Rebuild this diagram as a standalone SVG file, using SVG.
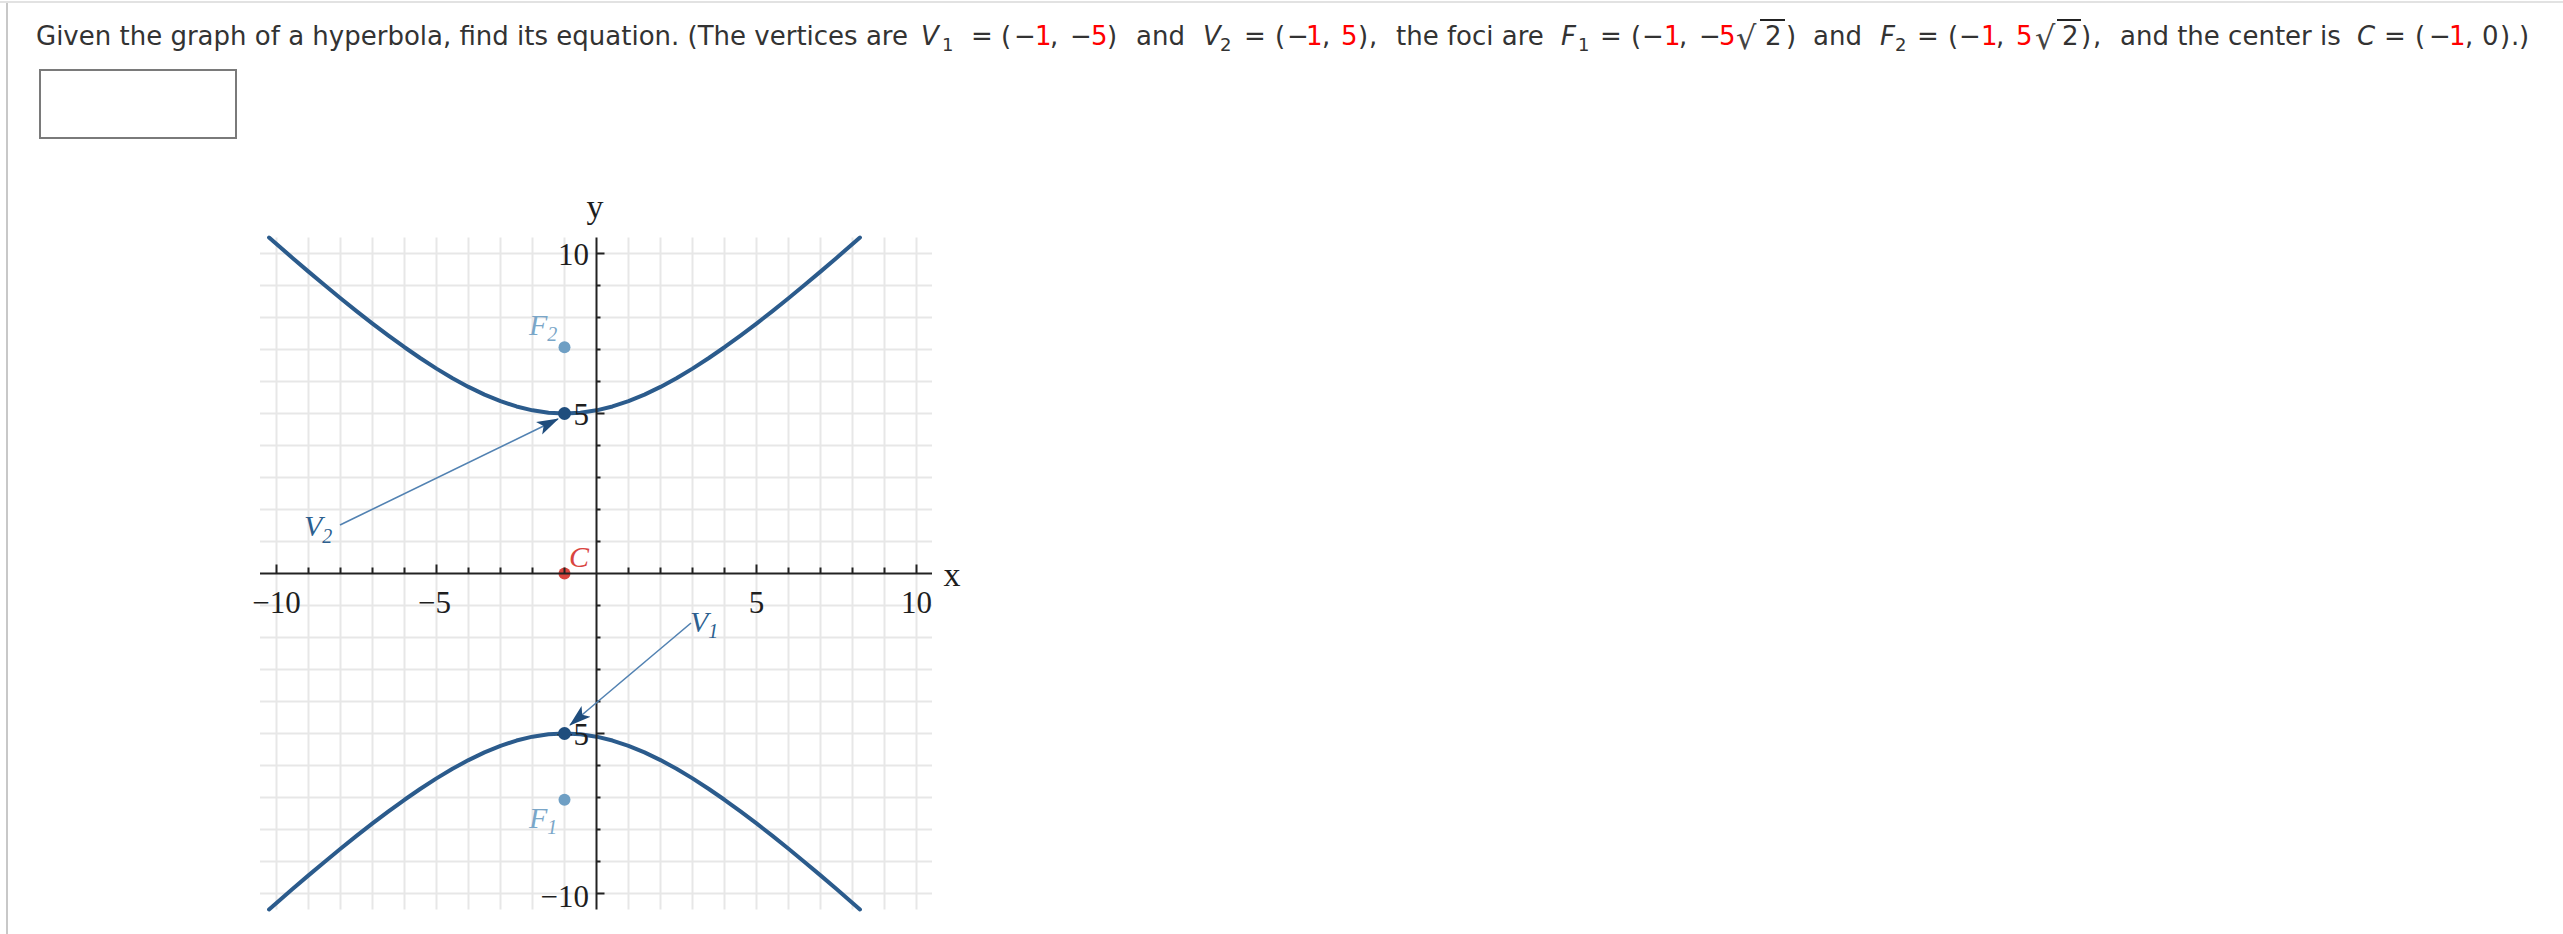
<svg xmlns="http://www.w3.org/2000/svg" width="2563" height="934" viewBox="0 0 2563 934">
<style>
.hdr{font-family:"DejaVu Sans","Verdana",sans-serif;font-size:26px;fill:#333333}
.it{font-style:italic}
.sub{font-size:18px}
.red{fill:#ff0000}
.rad{font-size:32px;fill:#444444}
.tick{font-family:"Liberation Serif","Times New Roman",serif;font-size:31px;fill:#1e1e1e}
.axl{font-family:"Liberation Serif","Times New Roman",serif;font-size:34px;fill:#1e1e1e}
.lbl{font-family:"Liberation Serif","Times New Roman",serif;font-style:italic;font-size:30px}
.lsub{font-size:20px}
.grid{stroke:#e7e7e7;stroke-width:2;fill:none}
.axis{stroke:#222222;stroke-width:2;fill:none}
.curve{stroke:#2b5b8c;stroke-width:4;fill:none;stroke-linejoin:round;stroke-linecap:round}
.conn{stroke:#5282b2;stroke-width:1.6;fill:none}
</style>
<defs>
<marker id="ah" viewBox="0 0 22 16" refX="21" refY="8" markerWidth="22" markerHeight="16" markerUnits="userSpaceOnUse" orient="auto">
<path d="M0,1 L22,8 L0,15 L5,8 z" fill="#1f4d7d"/>
</marker>
<polyline id="branch" points="269.04,237.5 276.5,244.04 292.5,257.93 308.5,271.61 324.5,285.06 340.5,298.23 356.5,311.08 372.5,323.57 388.5,335.64 404.5,347.23 420.5,358.24 436.5,368.60 452.5,378.20 468.5,386.91 484.5,394.61 500.5,401.17 516.5,406.46 532.5,410.33 548.5,412.70 564.5,413.5 580.5,412.70 596.5,410.33 612.5,406.46 628.5,401.17 644.5,394.61 660.5,386.91 676.5,378.20 692.5,368.60 708.5,358.24 724.5,347.23 740.5,335.64 756.5,323.57 772.5,311.08 788.5,298.23 804.5,285.06 820.5,271.61 836.5,257.93 852.5,244.04 859.96,237.5"/>
</defs>
<rect x="0" y="0" width="2563" height="934" fill="#ffffff"/>
<g id="frame">
<rect x="0" y="1" width="2563" height="2" fill="#e2e2e2"/>
<rect x="6" y="3" width="2" height="931" fill="#c8c8c8"/>
</g>
<g id="question">
<text class="hdr">
<tspan x="36" y="45">Given the graph of a hyperbola, find its equation. (The vertices are</tspan>
<tspan class="it" x="921" y="45">V</tspan><tspan class="sub" x="942" y="51">1</tspan>
<tspan x="971" y="45">=</tspan><tspan x="1001" y="45">(</tspan><tspan x="1014" y="45">−</tspan><tspan class="red" x="1035" y="45">1</tspan><tspan x="1050" y="45">,</tspan><tspan x="1070" y="45">−</tspan><tspan class="red" x="1091" y="45">5</tspan><tspan x="1107" y="45">)</tspan>
<tspan x="1136" y="45">and</tspan>
<tspan class="it" x="1203" y="45">V</tspan><tspan class="sub" x="1220" y="51">2</tspan>
<tspan x="1244" y="45">=</tspan><tspan x="1275" y="45">(</tspan><tspan x="1287" y="45">−</tspan><tspan class="red" x="1306" y="45">1</tspan><tspan x="1322" y="45">,</tspan><tspan class="red" x="1341" y="45">5</tspan><tspan x="1358" y="45">)</tspan><tspan x="1369" y="45">,</tspan>
<tspan x="1396" y="45">the foci are</tspan>
<tspan class="it" x="1561" y="45">F</tspan><tspan class="sub" x="1578" y="51">1</tspan>
<tspan x="1600" y="45">=</tspan><tspan x="1631" y="45">(</tspan><tspan x="1642" y="45">−</tspan><tspan class="red" x="1664" y="45">1</tspan><tspan x="1679" y="45">,</tspan><tspan x="1699" y="45">−</tspan><tspan class="red" x="1719" y="45">5</tspan><tspan class="rad" x="1736" y="49">√</tspan><tspan x="1765" y="45">2</tspan><tspan x="1786" y="45">)</tspan>
<tspan x="1813" y="45">and</tspan>
<tspan class="it" x="1880" y="45">F</tspan><tspan class="sub" x="1895" y="51">2</tspan>
<tspan x="1917" y="45">=</tspan><tspan x="1948" y="45">(</tspan><tspan x="1959" y="45">−</tspan><tspan class="red" x="1981" y="45">1</tspan><tspan x="1996" y="45">,</tspan><tspan class="red" x="2016" y="45">5</tspan><tspan class="rad" x="2035" y="49">√</tspan><tspan x="2062" y="45">2</tspan><tspan x="2081" y="45">)</tspan><tspan x="2093" y="45">,</tspan>
<tspan x="2120" y="45">and the center is</tspan>
<tspan class="it" x="2357" y="45">C</tspan>
<tspan x="2384" y="45">=</tspan><tspan x="2415" y="45">(</tspan><tspan x="2429" y="45">−</tspan><tspan class="red" x="2449" y="45">1</tspan><tspan x="2465" y="45">,</tspan><tspan x="2482" y="45">0</tspan><tspan x="2500" y="45">)</tspan><tspan x="2511" y="45">.</tspan><tspan x="2519" y="45">)</tspan>
</text>
<line x1="1760" y1="20" x2="1785" y2="20" stroke="#222222" stroke-width="2"/>
<line x1="2057" y1="20" x2="2081" y2="20" stroke="#222222" stroke-width="2"/>
</g>
<g id="answer-box">
<rect x="40" y="70" width="196" height="68" fill="#ffffff" stroke="#7a7a7a" stroke-width="2"/>
</g>
<g id="grid">
<path class="grid" d="M276.5,237.5V909.5M308.5,237.5V909.5M340.5,237.5V909.5M372.5,237.5V909.5M404.5,237.5V909.5M436.5,237.5V909.5M468.5,237.5V909.5M500.5,237.5V909.5M532.5,237.5V909.5M564.5,237.5V909.5M628.5,237.5V909.5M660.5,237.5V909.5M692.5,237.5V909.5M724.5,237.5V909.5M756.5,237.5V909.5M788.5,237.5V909.5M820.5,237.5V909.5M852.5,237.5V909.5M884.5,237.5V909.5M916.5,237.5V909.5M260,253.5H932M260,285.5H932M260,317.5H932M260,349.5H932M260,381.5H932M260,413.5H932M260,445.5H932M260,477.5H932M260,509.5H932M260,541.5H932M260,605.5H932M260,637.5H932M260,669.5H932M260,701.5H932M260,733.5H932M260,765.5H932M260,797.5H932M260,829.5H932M260,861.5H932M260,893.5H932"/>
</g>
<g id="hyperbola">
<use href="#branch" class="curve"/>
<use href="#branch" class="curve" transform="matrix(1 0 0 -1 0 1147)"/>
</g>
<g id="center-c">
<circle cx="564.5" cy="573.5" r="6" fill="#d9453f"/>
<text class="lbl" x="569" y="567" fill="#d9453f">C</text>
</g>
<g id="axes">
<path class="axis" d="M260,573.5H932M596.5,237.5V909.5"/>
<path class="axis" d="M276.5,573.5v-9M436.5,573.5v-9M756.5,573.5v-9M916.5,573.5v-9M308.5,573.5v-6M340.5,573.5v-6M372.5,573.5v-6M404.5,573.5v-6M468.5,573.5v-6M500.5,573.5v-6M532.5,573.5v-6M564.5,573.5v-6M628.5,573.5v-6M660.5,573.5v-6M692.5,573.5v-6M724.5,573.5v-6M788.5,573.5v-6M820.5,573.5v-6M852.5,573.5v-6M884.5,573.5v-6"/>
<path class="axis" d="M596.5,253.5h8M596.5,413.5h8M596.5,733.5h8M596.5,893.5h8M596.5,285.5h4M596.5,317.5h4M596.5,349.5h4M596.5,381.5h4M596.5,445.5h4M596.5,477.5h4M596.5,509.5h4M596.5,541.5h4M596.5,605.5h4M596.5,637.5h4M596.5,669.5h4M596.5,701.5h4M596.5,765.5h4M596.5,797.5h4M596.5,829.5h4M596.5,861.5h4"/>
<text class="tick" x="276.5" y="613" text-anchor="middle">−10</text>
<text class="tick" x="434.5" y="613" text-anchor="middle">−5</text>
<text class="tick" x="756.5" y="613" text-anchor="middle">5</text>
<text class="tick" x="916.5" y="613" text-anchor="middle">10</text>
<text class="tick" x="589" y="265" text-anchor="end">10</text>
<text class="tick" x="589" y="425" text-anchor="end">5</text>
<text class="tick" x="589" y="745" text-anchor="end">−5</text>
<text class="tick" x="589" y="907" text-anchor="end">−10</text>
<text class="axl" x="595" y="218" text-anchor="middle">y</text>
<text class="axl" x="952" y="586" text-anchor="middle">x</text>
</g>
<g id="focus-f2">
<circle cx="564.5" cy="347.2" r="6" fill="#6f9fc4"/>
<text class="lbl" x="529" y="335" fill="#7aa6c8">F<tspan class="lsub" dy="6">2</tspan></text>
</g>
<g id="focus-f1">
<circle cx="564.5" cy="799.8" r="6" fill="#6f9fc4"/>
<text class="lbl" x="529" y="828" fill="#7aa6c8">F<tspan class="lsub" dy="6">1</tspan></text>
</g>
<g id="vertex-v2">
<circle cx="564.5" cy="413.5" r="6.5" fill="#1f4d7d"/>
<text class="lbl" x="304" y="536" fill="#2d5f8f">V<tspan class="lsub" dy="7">2</tspan></text>
</g>
<g id="vertex-v1">
<circle cx="564.5" cy="733.5" r="6.5" fill="#1f4d7d"/>
<text class="lbl" x="690" y="632" fill="#2d5f8f">V<tspan class="lsub" dy="6">1</tspan></text>
</g>
<g id="connectors">
<path class="conn" d="M340,525L558,419" marker-end="url(#ah)"/>
<path class="conn" d="M691,623L570,725" marker-end="url(#ah)"/>
</g>
</svg>
